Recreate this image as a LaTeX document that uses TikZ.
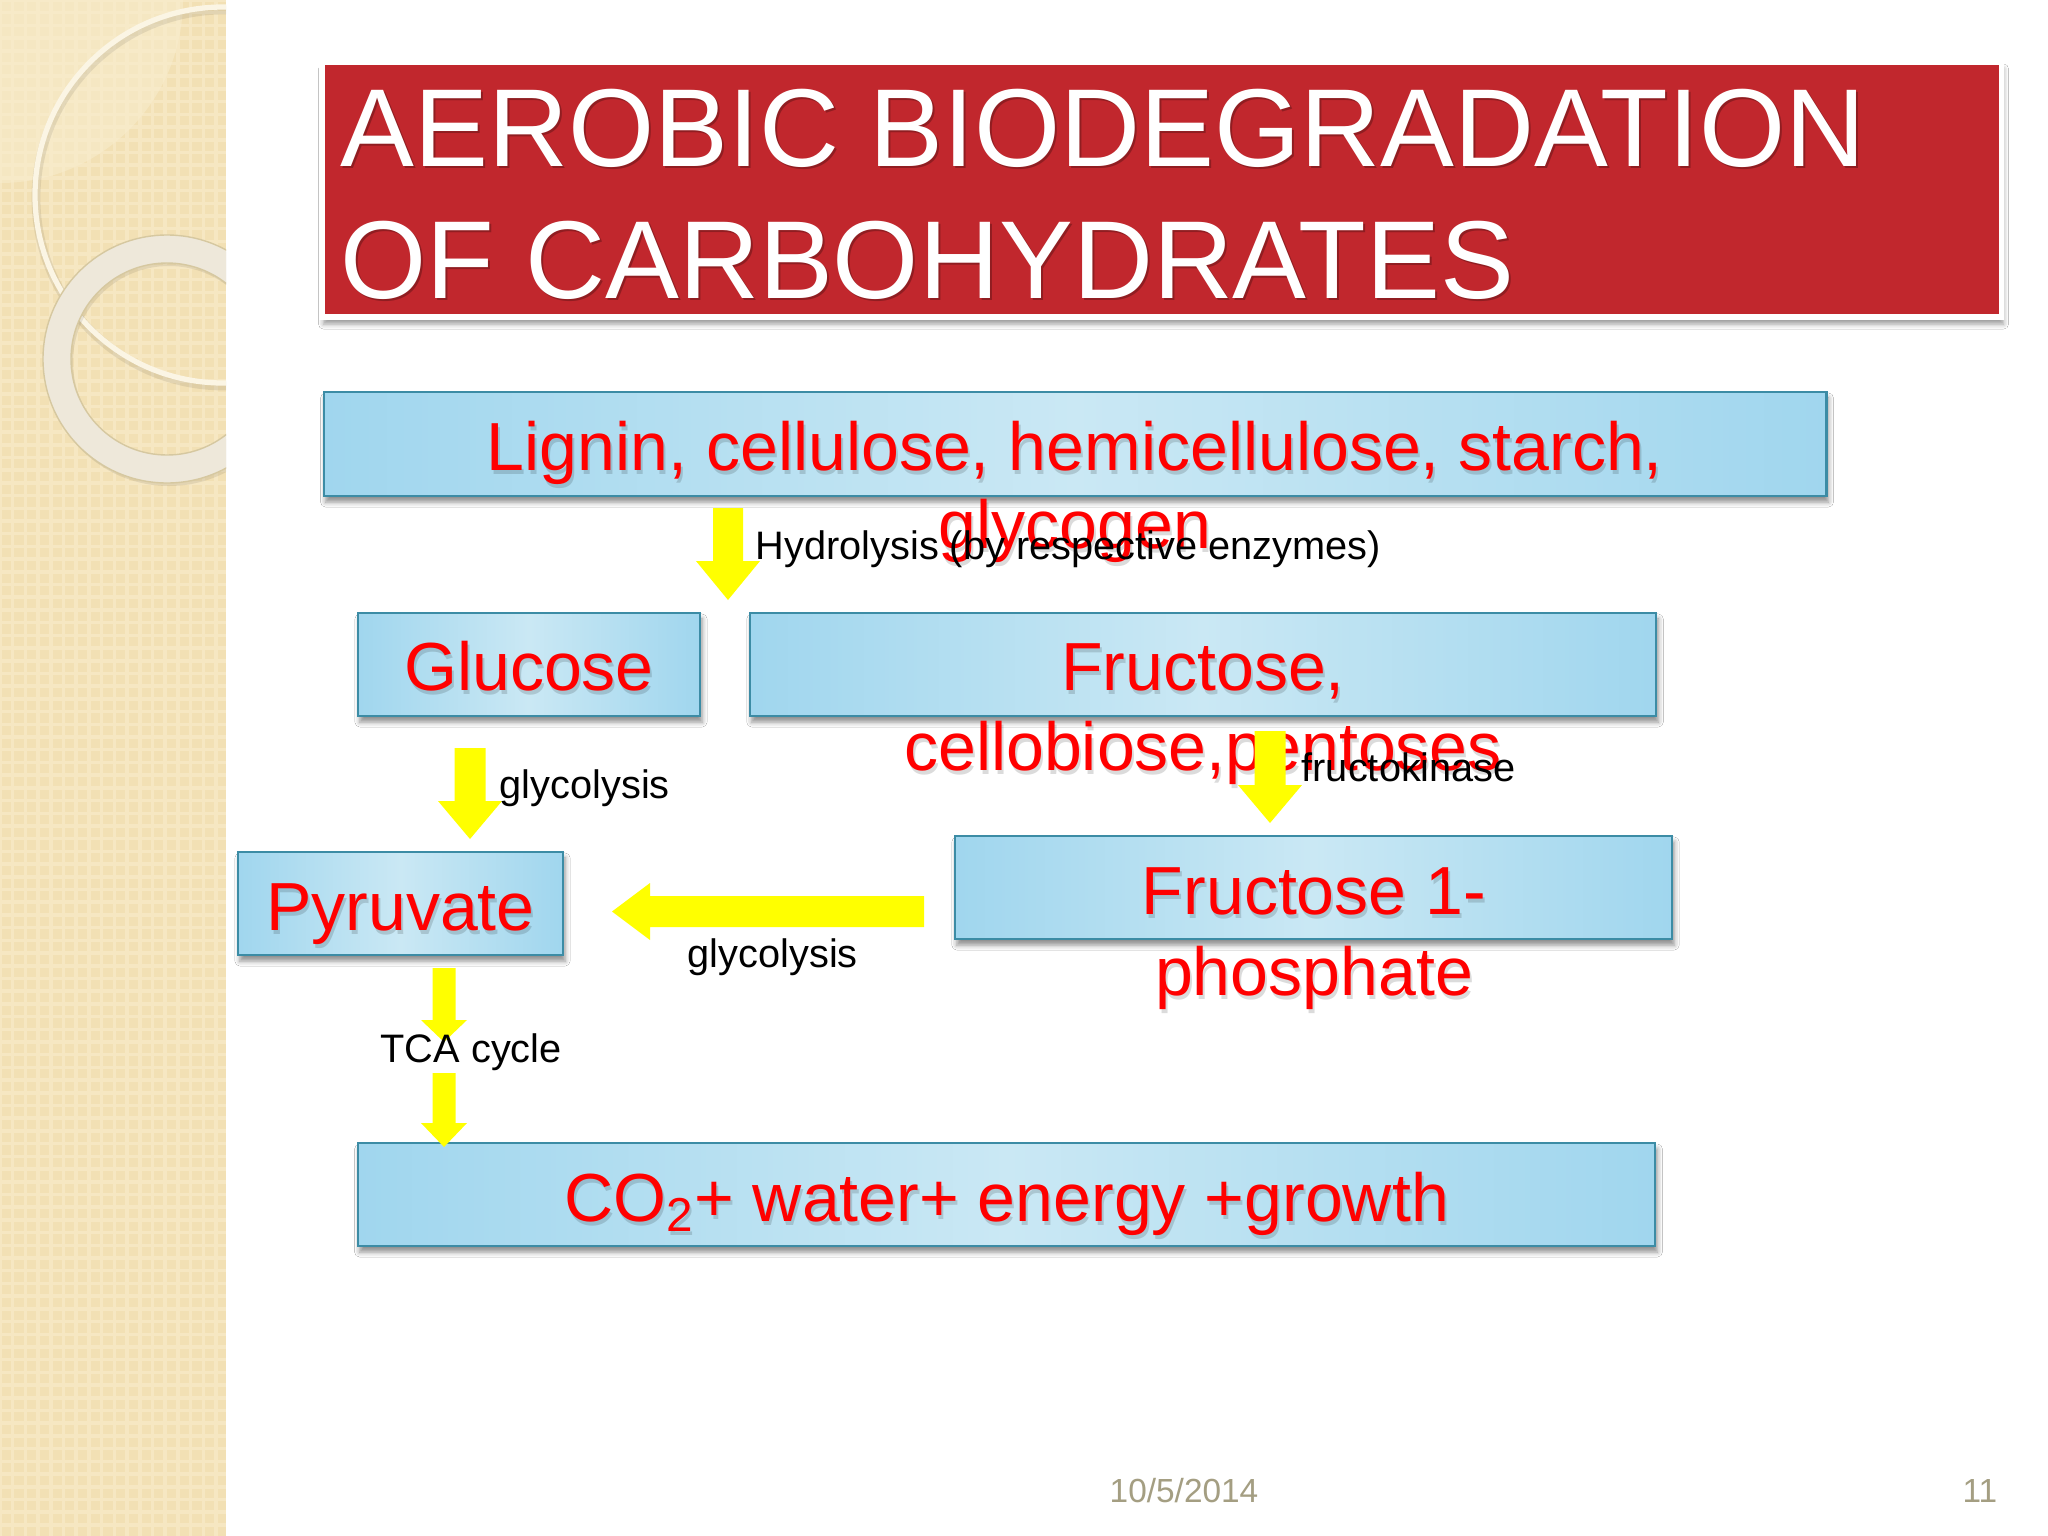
\documentclass[tikz,border=0pt]{standalone}
\usepackage{fontspec}
\setmainfont{Liberation Sans}
\usetikzlibrary{shadows.blur}

\definecolor{redtitle}{RGB}{193,39,45}
\definecolor{boxedge}{RGB}{160,214,238}
\definecolor{boxmid}{RGB}{202,232,244}
\definecolor{boxline}{RGB}{60,140,165}
\definecolor{arrowyellow}{RGB}{255,255,0}
\definecolor{sidebar}{RGB}{242,224,180}
\definecolor{sidebarlight}{RGB}{248,236,204}
\definecolor{sidebargrid}{RGB}{246,231,194}
\definecolor{ringfill}{RGB}{238,232,218}
\definecolor{ringline}{RGB}{214,200,160}
\definecolor{thinring}{RGB}{251,245,228}
\definecolor{datecol}{RGB}{164,158,130}
\definecolor{redtext}{RGB}{255,0,0}

\tikzset{
  box/.style={draw=boxline, line width=0.6pt, left color=boxedge, right color=boxedge,
    middle color=boxmid, inner sep=0pt,
    blur shadow={shadow xshift=0.02cm, shadow yshift=-0.06cm, shadow opacity=45, shadow blur radius=0.05cm}},
  redtxt/.style={text=redtext, font=\fontsize{19.35pt}{22pt}\selectfont, inner sep=0pt, anchor=base},
  rshadow/.style={redtxt, text=black, text opacity=0.14},
  lbl/.style={text=black, font=\fontsize{11.3pt}{13pt}\selectfont, inner sep=0pt, anchor=base west},
  titletxt/.style={text=white, font=\fontsize{31.5pt}{36pt}\selectfont, inner sep=0pt, anchor=base west},
  titleshadow/.style={titletxt, text=black, text opacity=0.25},
  foot/.style={text=datecol, font=\fontsize{9.5pt}{11pt}\selectfont, inner sep=0pt},
  yarrow/.style={fill=arrowyellow, draw=none}
}

\newcommand\rtext[4]{%
  \node[rshadow] (#1s) at (#2+2,#3+4) {#4};
  \node[redtxt] (#1) at (#2,#3) {#4};}

% vertical block arrow: cx, top, head start, tip, shaft half, head half
\newcommand\varrow[6]{%
  \fill[yarrow] (#1-#5,#2) -- (#1+#5,#2) -- (#1+#5,#3) -- (#1+#6,#3) -- (#1,#4)
    -- (#1-#6,#3) -- (#1-#5,#3) -- cycle;}

\begin{document}
\begin{tikzpicture}[x=0.01cm,y=-0.01cm]
\useasboundingbox (0,0) rectangle (2048,1536);
\fill[white] (0,0) rectangle (2048,1536);

% ---- sidebar ----
\fill[sidebar] (0,0) rectangle (226,1536);
\begin{scope}
  \clip (0,0) rectangle (226,1536);
  \draw[sidebargrid, line width=1.0pt, step=0.127cm] (0,0) grid (226,1536);
  \fill[sidebarlight, opacity=0.6] (0,0) circle (183);
  \draw[black, opacity=0.08, line width=2.5pt] (224,198) circle (188);
  \draw[thinring, line width=1.5pt] (223,195) circle (188);
  \fill[black, opacity=0.08, even odd rule] (169,362) circle (124) (169,362) circle (96);
  \fill[ringfill, even odd rule] (167,359) circle (124) (167,359) circle (96);
  \draw[ringline, line width=0.4pt] (167,359) circle (124) (167,359) circle (96);
\end{scope}

% ---- title ----
\node[draw=white, line width=1.7pt, fill=redtitle, minimum width=16.79cm, minimum height=2.55cm,
  blur shadow={shadow xshift=0.02cm, shadow yshift=-0.07cm, shadow opacity=40, shadow blur radius=0.05cm}]
  (title) at (1161.5,189.5) {};
\node[titleshadow] (t1s) at (342,168) {AEROBIC BIODEGRADATION};
\node[titletxt] (t1) at (340,166) {AEROBIC BIODEGRADATION};
\node[titleshadow] (t2s) at (342,300) {OF CARBOHYDRATES};
\node[titletxt] (t2) at (340,298) {OF CARBOHYDRATES};

% ---- boxes ----
\node[box, minimum width=15.02cm, minimum height=1.04cm] (lignin) at (1075,444) {};
\node[box, minimum width=3.42cm, minimum height=1.03cm] (glucose) at (529,664.5) {};
\node[box, minimum width=9.06cm, minimum height=1.03cm] (fructose) at (1203,664.5) {};
\node[box, minimum width=3.25cm, minimum height=1.03cm] (pyruvate) at (400.5,903.5) {};
\node[box, minimum width=7.17cm, minimum height=1.03cm] (f1p) at (1313.5,887.5) {};
\node[box, minimum width=12.97cm, minimum height=1.03cm] (co2) at (1006.5,1194.5) {};

% ---- red texts ----
\rtext{lg1}{1075}{470}{Lignin, cellulose, hemicellulose, starch,}
\rtext{lg2}{1075}{548}{glycogen}
\rtext{gl}{529}{690}{Glucose}
\rtext{fr1}{1203}{690}{Fructose,}
\rtext{fr2}{1203}{770}{cellobiose,pentoses}
\rtext{py}{400.5}{930}{Pyruvate}
\rtext{fp1}{1314}{914}{Fructose 1-}
\rtext{fp2}{1314}{995}{phosphate}
\rtext{cw}{1006.5}{1221}{CO\textsubscript{2}+ water+ energy +growth}

% ---- yellow arrows ----
\varrow{728}{508}{561}{600}{15}{32}
\varrow{470}{748}{801}{839}{15.5}{32}
\varrow{1270}{731}{785}{823}{15.5}{32}
\fill[yarrow] (924,896) -- (924,927) -- (650,927) -- (650,940) -- (612,911.5)
  -- (650,883) -- (650,896) -- cycle;
\varrow{444}{968}{1020}{1042}{11.5}{23}
\varrow{444}{1073}{1123}{1147}{11.5}{23}

% ---- labels ----
\node[lbl] (hyd) at (755,559) {Hydrolysis (by respective enzymes)};
\node[lbl] (gly1) at (499,798) {glycolysis};
\node[lbl] (fk) at (1301,781) {fructokinase};
\node[lbl] (gly2) at (687,967) {glycolysis};
\node[lbl] (tca) at (380,1062) {TCA cycle};

% ---- footer ----
\node[foot, anchor=base west] (date) at (1109,1502) {10/5/2014};
\node[foot, anchor=base east] (page) at (1998,1502) {11};
\end{tikzpicture}
\end{document}
